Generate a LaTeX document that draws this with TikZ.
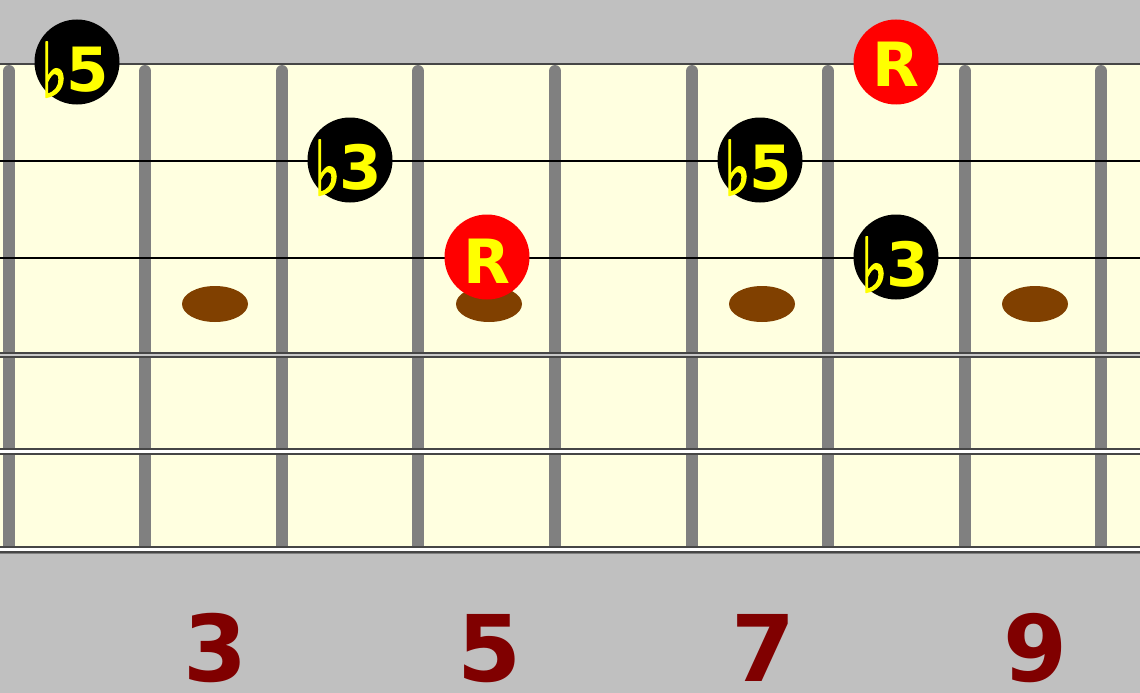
\documentclass[tikz,border=0pt]{standalone}
\usepackage{fontspec}
\setmainfont{DejaVu Sans}
\newfontfamily\flatfont[FakeBold=2.5]{DejaVu Sans}
\definecolor{bggray}{RGB}{192,192,192}
\definecolor{board}{RGB}{255,255,224}
\definecolor{fretgray}{RGB}{128,128,128}
\definecolor{inlay}{RGB}{128,64,0}
\definecolor{numred}{RGB}{128,0,0}
\definecolor{edgegray}{RGB}{70,70,70}
\definecolor{notered}{RGB}{255,0,0}
\definecolor{noteyellow}{RGB}{255,255,0}
\newcommand{\fl}{\raisebox{-6pt}{\scalebox{0.75}[1]{\flatfont\fontsize{75}{75}\selectfont ♭}}\kern-1pt}
\tikzset{
  fretbar/.style={draw=fretgray, line width=12pt, line cap=round},
  thinstring/.style={draw=black, line width=1.6pt},
  heavyouter/.style={draw=edgegray, line width=7pt},
  heavyinner/.style={draw=white, line width=3pt},
  dotinlay/.style={fill=inlay, ellipse, minimum width=66pt, minimum height=36pt, inner sep=0pt},
  blacknote/.style={circle, fill=black, minimum size=85pt, inner sep=0pt},
  rednote/.style={circle, fill=notered, minimum size=85pt, inner sep=0pt},
  notetext/.style={anchor=base, text=noteyellow, font=\fontsize{61}{61}\selectfont\bfseries, inner sep=0pt},
  fretnum/.style={anchor=base, text=numred, font=\fontsize{92}{92}\selectfont\bfseries, inner sep=0pt}
}
\usetikzlibrary{shapes.geometric}
\begin{document}
\begin{tikzpicture}[x=1pt, y=-1pt]
\useasboundingbox (0,0) rectangle (1140,693);
\fill[bggray] (0,0) rectangle (1140,693);
\fill[board] (0,64) rectangle (1140,549);
% frets
\begin{scope}
\clip (0,0) rectangle (1140,549);
\foreach \x in {9,145,282,418,555,692,828,965,1101}
  \draw[fretbar] (\x,71) -- (\x,560);
\end{scope}
% top edge
\draw[draw=edgegray, line width=2pt] (0,64) -- (1140,64);
% strings
\draw[thinstring] (0,161) -- (1140,161);
\draw[thinstring] (0,258) -- (1140,258);
\draw[draw=edgegray, line width=6pt] (0,355) -- (1140,355);
\draw[draw={rgb,255:red,200;green,200;blue,200}, line width=2pt] (0,354.5) -- (1140,354.5);
\draw[heavyouter] (0,451.5) -- (1140,451.5);
\draw[heavyinner] (0,451.5) -- (1140,451.5);
\draw[heavyouter] (0,549) -- (1140,549);
\draw[heavyinner] (0,549.5) -- (1140,549.5);
\draw[draw=fretgray, line width=1pt] (0,553) -- (1140,553);
% inlays
\node[dotinlay] (in3) at (215,304) {};
\node[dotinlay] (in5) at (489,304) {};
\node[dotinlay] (in7) at (762,304) {};
\node[dotinlay] (in9) at (1035,304) {};
% notes
\node[blacknote] (n1) at (77,62) {};
\node[notetext] (t1) at (75,91) {\fl 5};
\node[rednote] (n2) at (896,62) {};
\node[notetext] (t2) at (896,86) {R};
\node[blacknote] (n3) at (350,160) {};
\node[notetext] (t3) at (348,189) {\fl 3};
\node[blacknote] (n4) at (760,160) {};
\node[notetext] (t4) at (758,189) {\fl 5};
\node[rednote] (n5) at (487,257) {};
\node[notetext] (t5) at (487,283) {R};
\node[blacknote] (n6) at (896,257) {};
\node[notetext] (t6) at (895,286) {\fl 3};
% fret numbers
\node[fretnum] (f3) at (216,681) {3};
\node[fretnum] (f5) at (490,681) {5};
\node[fretnum] (f7) at (763,681) {7};
\node[fretnum] (f9) at (1035,681) {9};
\end{tikzpicture}
\end{document}
